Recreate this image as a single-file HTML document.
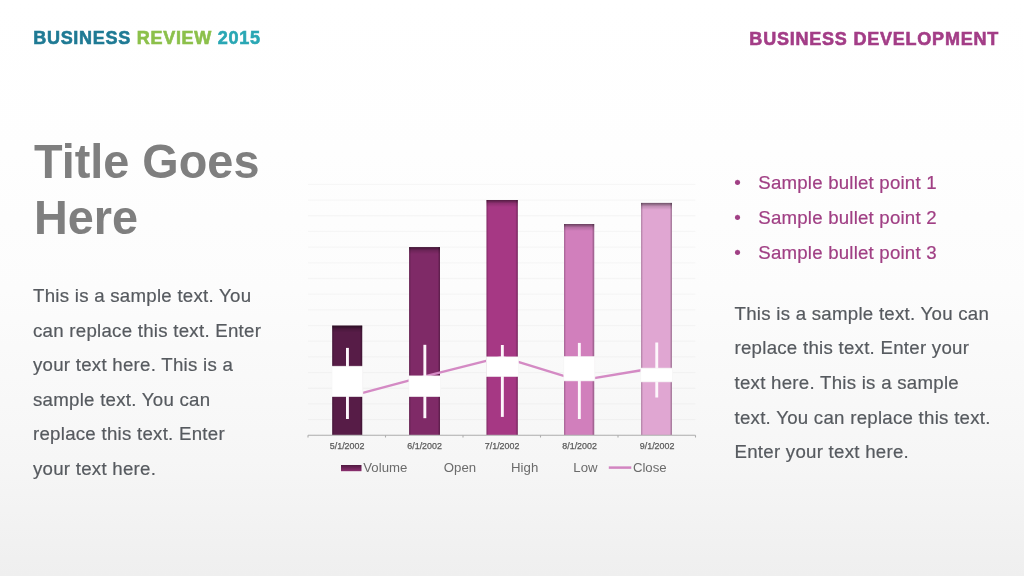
<!DOCTYPE html>
<html><head><meta charset="utf-8">
<style>
html,body{margin:0;padding:0;}
body{width:1024px;height:576px;overflow:hidden;position:relative;font-family:"Liberation Sans",Arial,sans-serif;
background:linear-gradient(to bottom,#ffffff 0px,#fefefe 150px,#fcfcfc 290px,#f6f6f6 460px,#efefef 576px);}
.abs{position:absolute;white-space:nowrap;}
#h1{left:33.2px;top:26.7px;font-size:18px;font-weight:bold;line-height:22px;letter-spacing:0.72px;-webkit-text-stroke-width:0.6px;}
#h2{right:25px;top:27.5px;font-size:18px;font-weight:bold;line-height:22px;color:#a33d87;letter-spacing:0.78px;-webkit-text-stroke-width:0.6px;}
#title{left:34px;top:133.1px;font-size:48.5px;font-weight:bold;line-height:56px;color:#7f7f7f;transform:scaleX(0.965);transform-origin:0 0;}
#body1{left:33px;top:279.2px;font-size:18.67px;line-height:34.5px;color:#565a5f;letter-spacing:0.26px;-webkit-text-stroke:0.2px #565a5f;}
#bul{left:734.3px;top:166.2px;font-size:18.67px;line-height:34.8px;color:#a03f84;letter-spacing:0.2px;-webkit-text-stroke:0.2px #a03f84;}
#bul span{display:inline-block;width:24px;}
#body2{left:734.5px;top:296.8px;font-size:18.67px;line-height:34.6px;color:#565a5f;letter-spacing:0.26px;-webkit-text-stroke:0.2px #565a5f;}
svg{position:absolute;left:0;top:0;}
</style></head><body>
<div id="h1" class="abs"><span style="color:#1f7a94">BUSINESS</span> <span style="color:#8cc04b">REVIEW</span> <span style="color:#2aa7b4">2015</span></div>
<div id="h2" class="abs">BUSINESS DEVELOPMENT</div>
<div id="title" class="abs">Title Goes<br>Here</div>
<div id="body1" class="abs">This is a sample text. You<br>can replace this text. Enter<br>your text here. This is a<br>sample text. You can<br>replace this text. Enter<br>your text here.</div>
<div id="bul" class="abs"><span>•</span>Sample bullet point 1<br><span>•</span>Sample bullet point 2<br><span>•</span>Sample bullet point 3</div>
<div id="body2" class="abs">This is a sample text. You can<br>replace this text. Enter your<br>text here. This is a sample<br>text. You can replace this text.<br>Enter your text here.</div>
<svg width="1024" height="576" viewBox="0 0 1024 576" font-family="Liberation Sans, Arial, sans-serif">
<defs>
<linearGradient id="st" x1="0" y1="0" x2="0" y2="1"><stop offset="0" stop-color="#000" stop-opacity="0.5"/><stop offset="0.2" stop-color="#000" stop-opacity="0.36"/><stop offset="0.5" stop-color="#000" stop-opacity="0.14"/><stop offset="1" stop-color="#000" stop-opacity="0"/></linearGradient>
<linearGradient id="sl" x1="0" y1="0" x2="1" y2="0"><stop offset="0" stop-color="#000" stop-opacity="0.22"/><stop offset="1" stop-color="#000" stop-opacity="0"/></linearGradient>
<linearGradient id="sr" x1="1" y1="0" x2="0" y2="0"><stop offset="0" stop-color="#000" stop-opacity="0.3"/><stop offset="1" stop-color="#000" stop-opacity="0"/></linearGradient>
<linearGradient id="sw" x1="0" y1="0" x2="0" y2="1"><stop offset="0" stop-color="#4f1840"/><stop offset="1" stop-color="#8c2f70"/></linearGradient>
</defs>
<g stroke="#000" stroke-opacity="0.027" stroke-width="1.3"><line x1="308.0" y1="184.40" x2="695.5" y2="184.40"/><line x1="308.0" y1="200.08" x2="695.5" y2="200.08"/><line x1="308.0" y1="215.76" x2="695.5" y2="215.76"/><line x1="308.0" y1="231.44" x2="695.5" y2="231.44"/><line x1="308.0" y1="247.12" x2="695.5" y2="247.12"/><line x1="308.0" y1="262.81" x2="695.5" y2="262.81"/><line x1="308.0" y1="278.49" x2="695.5" y2="278.49"/><line x1="308.0" y1="294.17" x2="695.5" y2="294.17"/><line x1="308.0" y1="309.85" x2="695.5" y2="309.85"/><line x1="308.0" y1="325.53" x2="695.5" y2="325.53"/><line x1="308.0" y1="341.21" x2="695.5" y2="341.21"/><line x1="308.0" y1="356.89" x2="695.5" y2="356.89"/><line x1="308.0" y1="372.58" x2="695.5" y2="372.58"/><line x1="308.0" y1="388.26" x2="695.5" y2="388.26"/><line x1="308.0" y1="403.94" x2="695.5" y2="403.94"/><line x1="308.0" y1="419.62" x2="695.5" y2="419.62"/></g>
<rect x="332.2" y="325.6" width="30.0" height="109.4" fill="#571c47"/>
<rect x="332.2" y="325.6" width="30.0" height="7" fill="url(#st)"/>
<rect x="332.2" y="325.6" width="2.2" height="109.4" fill="url(#sl)"/>
<rect x="359.7" y="325.6" width="2.5" height="109.4" fill="url(#sr)"/>
<rect x="409.1" y="247.1" width="30.9" height="187.9" fill="#7f2a67"/>
<rect x="409.1" y="247.1" width="30.9" height="7" fill="url(#st)"/>
<rect x="409.1" y="247.1" width="2.2" height="187.9" fill="url(#sl)"/>
<rect x="437.5" y="247.1" width="2.5" height="187.9" fill="url(#sr)"/>
<rect x="486.5" y="200.0" width="31.3" height="235.0" fill="#a63884"/>
<rect x="486.5" y="200.0" width="31.3" height="7" fill="url(#st)"/>
<rect x="486.5" y="200.0" width="2.2" height="235.0" fill="url(#sl)"/>
<rect x="515.3" y="200.0" width="2.5" height="235.0" fill="url(#sr)"/>
<rect x="564.0" y="224.0" width="30.2" height="211.0" fill="#d17fbc"/>
<rect x="564.0" y="224.0" width="30.2" height="7" fill="url(#st)"/>
<rect x="564.0" y="224.0" width="2.2" height="211.0" fill="url(#sl)"/>
<rect x="591.7" y="224.0" width="2.5" height="211.0" fill="url(#sr)"/>
<rect x="641.0" y="202.9" width="31.0" height="232.1" fill="#e0a6d2"/>
<rect x="641.0" y="202.9" width="31.0" height="7" fill="url(#st)"/>
<rect x="641.0" y="202.9" width="2.2" height="232.1" fill="url(#sl)"/>
<rect x="669.5" y="202.9" width="2.5" height="232.1" fill="url(#sr)"/>
<g stroke="#adadad" stroke-width="1.1"><line x1="308.0" y1="435.3" x2="695.5" y2="435.3"/>
<line x1="308.0" y1="435.3" x2="308.0" y2="437.5"/>
<line x1="385.5" y1="435.3" x2="385.5" y2="437.5"/>
<line x1="463.0" y1="435.3" x2="463.0" y2="437.5"/>
<line x1="540.5" y1="435.3" x2="540.5" y2="437.5"/>
<line x1="618.0" y1="435.3" x2="618.0" y2="437.5"/>
<line x1="695.5" y1="435.3" x2="695.5" y2="437.5"/>
</g>
<polyline points="362.8,392.8 424.6,376.3 502.1,356.9 579.1,380.6 641.3,370.3" fill="none" stroke="#d48ac4" stroke-width="2.4" stroke-linecap="butt" stroke-linejoin="round"/>
<rect x="346.0" y="347.9" width="2.9" height="71.1" fill="#fdf6fb"/>
<rect x="423.4" y="344.8" width="2.9" height="73.4" fill="#fdf6fb"/>
<rect x="500.9" y="345.0" width="2.9" height="71.9" fill="#fdf6fb"/>
<rect x="577.9" y="342.9" width="2.9" height="76.1" fill="#fdf6fb"/>
<rect x="655.3" y="342.5" width="2.9" height="55.0" fill="#fdf6fb"/>
<rect x="332.0" y="366.2" width="30.9" height="30.4" fill="#ffffff" stroke="#f3f3f3" stroke-width="0.6"/>
<rect x="408.9" y="375.9" width="31.8" height="20.7" fill="#ffffff" stroke="#f3f3f3" stroke-width="0.6"/>
<rect x="486.3" y="356.9" width="32.2" height="19.6" fill="#ffffff" stroke="#f3f3f3" stroke-width="0.6"/>
<rect x="563.8" y="356.6" width="31.1" height="24.3" fill="#ffffff" stroke="#f3f3f3" stroke-width="0.6"/>
<rect x="640.8" y="368.1" width="31.9" height="13.8" fill="#ffffff" stroke="#f3f3f3" stroke-width="0.6"/>
<g font-size="9.4" fill="#5a5a5a" stroke="#5a5a5a" stroke-width="0.25" text-anchor="middle">
<text x="347.1" y="449" textLength="34.6" lengthAdjust="spacingAndGlyphs">5/1/2002</text>
<text x="424.6" y="449" textLength="34.6" lengthAdjust="spacingAndGlyphs">6/1/2002</text>
<text x="502.1" y="449" textLength="34.6" lengthAdjust="spacingAndGlyphs">7/1/2002</text>
<text x="579.6" y="449" textLength="34.6" lengthAdjust="spacingAndGlyphs">8/1/2002</text>
<text x="657.1" y="449" textLength="34.6" lengthAdjust="spacingAndGlyphs">9/1/2002</text>
</g>
<rect x="341" y="465" width="20.5" height="6.2" fill="url(#sw)"/>
<line x1="608.8" y1="467.6" x2="631.3" y2="467.6" stroke="#d285c1" stroke-width="2.5"/>
<g font-size="13.2" fill="#6b6b6b">
<text x="363.3" y="471.9">Volume</text>
<text x="443.8" y="471.9">Open</text>
<text x="511.1" y="471.9">High</text>
<text x="573.3" y="471.9">Low</text>
<text x="632.9" y="471.9">Close</text>
</g>
</svg>
</body></html>
